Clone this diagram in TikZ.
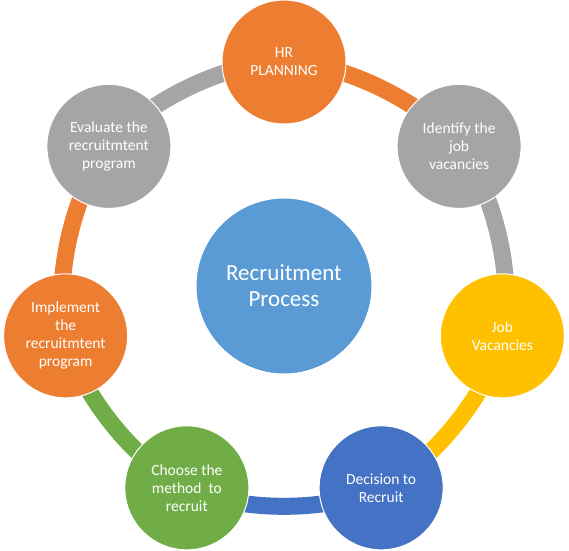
\documentclass[tikz,border=0pt]{standalone}
\usepackage{fontspec}
\setmainfont{Carlito}
\usetikzlibrary{backgrounds}
\definecolor{offorange}{HTML}{ED7D31}
\definecolor{offgray}{HTML}{A5A5A5}
\definecolor{offgold}{HTML}{FFC000}
\definecolor{offblue}{HTML}{4472C4}
\definecolor{offgreen}{HTML}{70AD47}
\definecolor{offsky}{HTML}{5B9BD5}

\begin{document}
\begin{tikzpicture}[x=1pt,y=1pt,
    stage/.style={circle,minimum size=124pt,inner sep=0pt,draw=white,line width=1pt,
      text=white,align=center,font=\fontsize{15.5}{18}\selectfont},
    hub/.style={stage,minimum size=176pt,font=\fontsize{23}{26}\selectfont},
    ring/.style={line width=17pt,bend left=25.7,looseness=0.75}]
            \useasboundingbox (-284,-264) rectangle (285,286);
            \node[hub,fill=offsky] (hub) at (0,0) {Recruitment\\Process};
            \node[stage,fill=offorange] (plan) at (90:224) {HR\\PLANNING};
            \node[stage,fill=offgray] (ident) at (38.57:224) {Identify the\\job\\vacancies};
            \node[stage,fill=offgold] (vac) at (-12.86:224) {Job\\Vacancies};
            \node[stage,fill=offblue] (decide) at (-64.29:224) {Decision to\\Recruit};
            \node[stage,fill=offgreen] (method) at (-115.71:224) {Choose the\\method\ \ to\\recruit};
            \node[stage,fill=offorange] (impl) at (-167.14:224) {Implement\\the\\recruitmtent\\program};
            \node[stage,fill=offgray] (eval) at (141.43:224) {Evaluate the\\recruitmtent\\program};
            \begin{scope}[on background layer]
            \draw[ring,offorange] (plan.center) to (ident.center);
            \draw[ring,offgray] (ident.center) to (vac.center);
            \draw[ring,offgold] (vac.center) to (decide.center);
            \draw[ring,offblue] (decide.center) to (method.center);
            \draw[ring,offgreen] (method.center) to (impl.center);
            \draw[ring,offorange] (impl.center) to (eval.center);
            \draw[ring,offgray] (eval.center) to (plan.center);
            \end{scope}
        \end{tikzpicture}
\end{document}
